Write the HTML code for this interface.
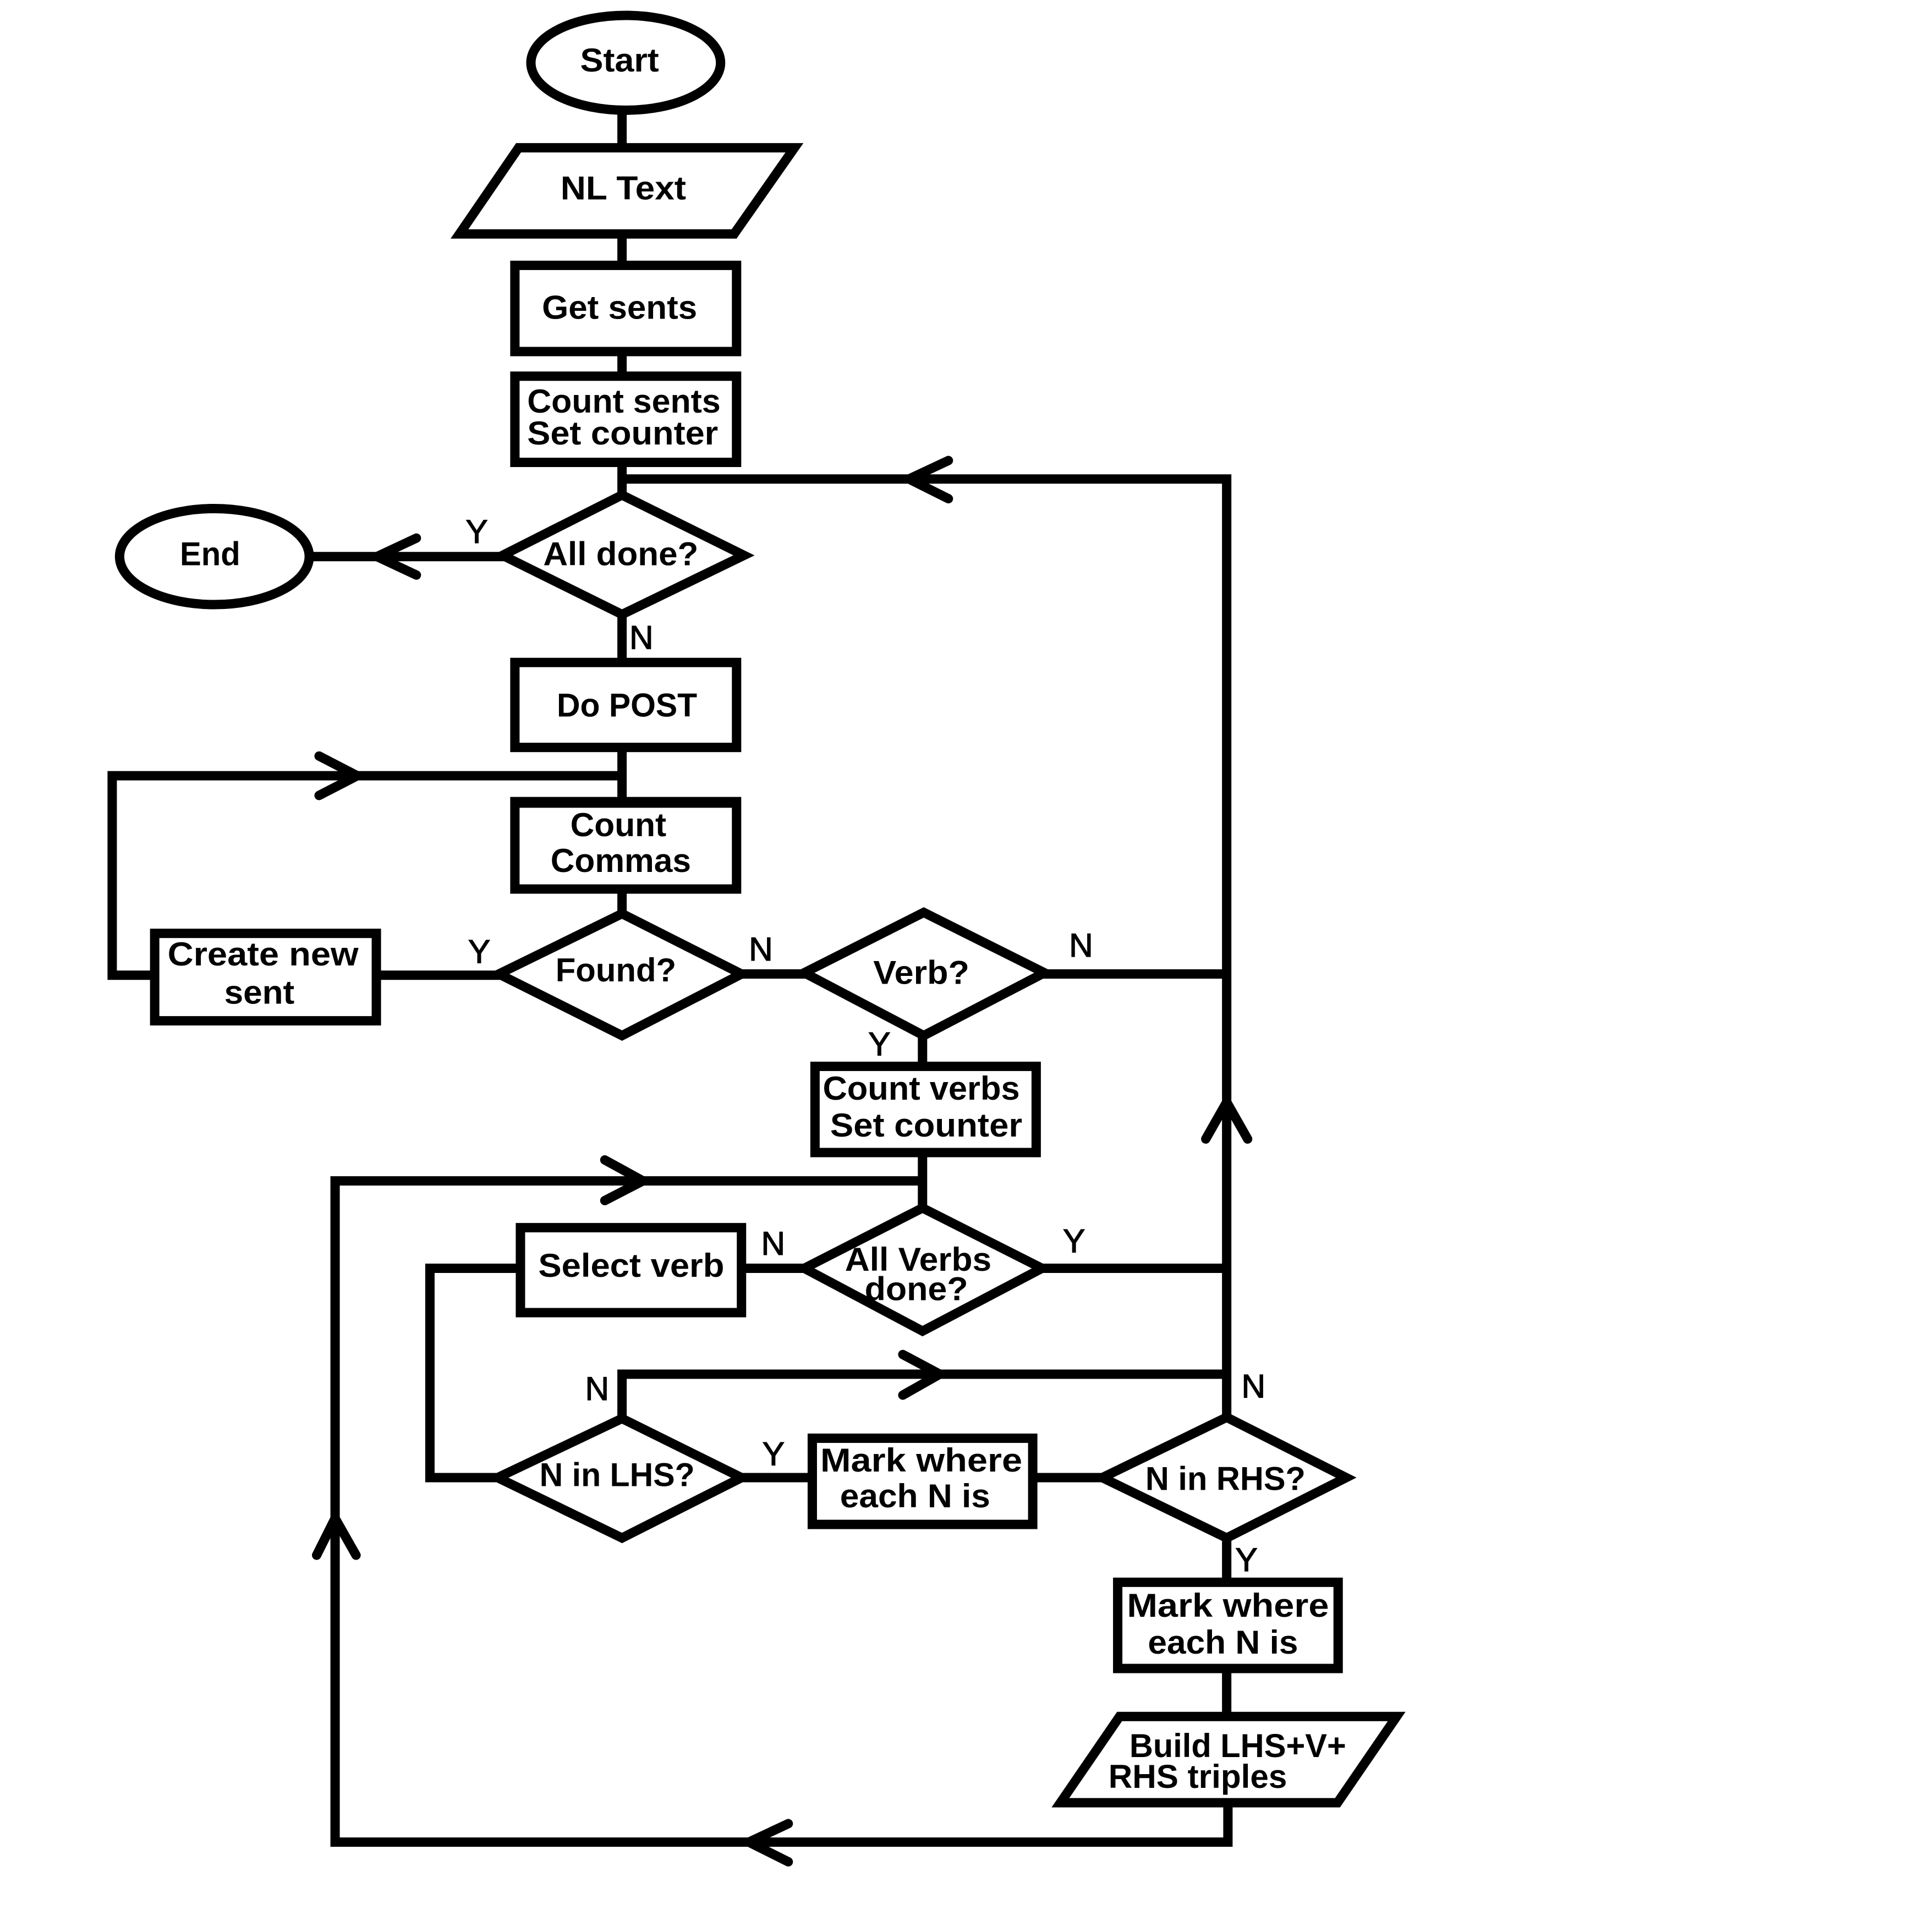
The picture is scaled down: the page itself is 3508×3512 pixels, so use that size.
<!DOCTYPE html>
<html><head><meta charset="utf-8"><style>
html,body{margin:0;padding:0;background:#fff}
svg{display:block}
text{font-family:"Liberation Sans",sans-serif;font-weight:bold;font-size:27px;fill:#000}
.l{font-weight:normal;font-size:27px;stroke:#000;stroke-width:.6}
</style></head><body>
<svg xmlns="http://www.w3.org/2000/svg" width="3508" height="3512" viewBox="0 0 1567 1569">
<rect width="1567" height="1569" fill="#fff"/>
<g fill="none" stroke="#000" stroke-width="7.6">
<path d="M505 90V120M505 190V215M505 285V305M505 375V402"/>
<path d="M505 389H996V1150"/>
<path d="M253 452H412M505 498V538M505 606V650"/>
<path d="M505 630H91V792H125"/>
<path d="M505 720V742M307 792H412M600 791H655M846 791H996"/>
<path d="M749 840V866M749 936V980"/>
<path d="M749 959H272V1496H997V1464"/>
<path d="M603 1030H655M846 1030H996"/>
<path d="M423 1030H349V1200H412"/>
<path d="M505 1152V1116H996"/>
<path d="M600 1200H660M840 1200H900"/>
<path d="M996 1250V1285M996 1355V1395"/>
</g>
<g fill="none" stroke="#000" stroke-width="7.6" stroke-linecap="round" stroke-linejoin="miter">
<path d="M338 437L306 452L338 467"/>
<path d="M770 374L738 389L770 405"/>
<path d="M259 614L290 630L259 646"/>
<path d="M491 942L522 959L491 975"/>
<path d="M733 1100L763 1116L733 1133"/>
<path d="M979 925L996 895L1013 925"/>
<path d="M257 1263L272 1233L289 1263"/>
<path d="M640 1481L608 1496L640 1512"/>
</g>
<g fill="#fff" stroke="#000" stroke-width="7.6" stroke-linejoin="miter">
<ellipse cx="508" cy="51" rx="77" ry="38.5"/>
<ellipse cx="174" cy="452" rx="77" ry="39"/>
<path d="M421 120H645L596 190H373Z"/>
<path d="M909 1394H1134L1086 1464H861Z"/>
<path d="M505 402L604 451L505 499L408 451Z"/>
<path d="M505 742L602 791L505 841L405 791Z"/>
<path d="M750 741L848 790L750 841L653 790Z"/>
<path d="M749 981L846 1030L749 1081L653 1030Z"/>
<path d="M505 1152L602 1200L505 1249L404 1200Z"/>
<path d="M996 1151L1093 1200L996 1249L895 1200Z"/>
</g>
<g fill="#fff" stroke="#000" stroke-width="7.6">
<rect x="418" y="215.5" width="180" height="70"/>
<rect x="418" y="305.5" width="180" height="70"/>
<rect x="418" y="538" width="180" height="69"/>
<rect x="418" y="651" width="180" height="71"/>
<rect x="125.5" y="758" width="180" height="71"/>
<rect x="661.7" y="866" width="179.6" height="70"/>
<rect x="422.5" y="997" width="179.5" height="69"/>
<rect x="659.5" y="1168" width="179" height="70"/>
<rect x="907.5" y="1285" width="179" height="70"/>
</g>
<path d="M418 649h180v7h-180zM125 755h181v6h-181z" fill="#000"/>
<text x="471" y="58" textLength="64" lengthAdjust="spacingAndGlyphs">Start</text>
<text x="455" y="162" textLength="102" lengthAdjust="spacingAndGlyphs">NL Text</text>
<text x="440" y="259" textLength="126" lengthAdjust="spacingAndGlyphs">Get sents</text>
<text x="428" y="335" textLength="157" lengthAdjust="spacingAndGlyphs">Count sents</text>
<text x="428" y="361" textLength="155" lengthAdjust="spacingAndGlyphs">Set counter</text>
<text x="441" y="459" textLength="126" lengthAdjust="spacingAndGlyphs">All done?</text>
<text x="146" y="459" textLength="49" lengthAdjust="spacingAndGlyphs">End</text>
<text x="452" y="582" textLength="114" lengthAdjust="spacingAndGlyphs">Do POST</text>
<text x="463" y="679" textLength="78" lengthAdjust="spacingAndGlyphs">Count</text>
<text x="447" y="708" textLength="114" lengthAdjust="spacingAndGlyphs">Commas</text>
<text x="136" y="784" textLength="155" lengthAdjust="spacingAndGlyphs">Create new</text>
<text x="182" y="815" textLength="57" lengthAdjust="spacingAndGlyphs">sent</text>
<text x="451" y="797" textLength="98" lengthAdjust="spacingAndGlyphs">Found?</text>
<text x="709" y="799" textLength="78" lengthAdjust="spacingAndGlyphs">Verb?</text>
<text x="668" y="893" textLength="160" lengthAdjust="spacingAndGlyphs">Count verbs</text>
<text x="674" y="923" textLength="156" lengthAdjust="spacingAndGlyphs">Set counter</text>
<text x="686" y="1032" textLength="119" lengthAdjust="spacingAndGlyphs">All Verbs</text>
<text x="702" y="1056" textLength="84" lengthAdjust="spacingAndGlyphs">done?</text>
<text x="437" y="1037" textLength="151" lengthAdjust="spacingAndGlyphs">Select verb</text>
<text x="438" y="1207" textLength="126" lengthAdjust="spacingAndGlyphs">N in LHS?</text>
<text x="666" y="1195" textLength="164" lengthAdjust="spacingAndGlyphs">Mark where</text>
<text x="682" y="1224" textLength="122" lengthAdjust="spacingAndGlyphs">each N is</text>
<text x="930" y="1210" textLength="130" lengthAdjust="spacingAndGlyphs">N in RHS?</text>
<text x="915" y="1313" textLength="164" lengthAdjust="spacingAndGlyphs">Mark where</text>
<text x="932" y="1343" textLength="122" lengthAdjust="spacingAndGlyphs">each N is</text>
<text x="917" y="1427" textLength="176" lengthAdjust="spacingAndGlyphs">Build LHS+V+</text>
<text x="900" y="1452" textLength="145" lengthAdjust="spacingAndGlyphs">RHS triples</text>
<text class="l" x="378" y="441">Y</text>
<text class="l" x="511" y="527">N</text>
<text class="l" x="380" y="782">Y</text>
<text class="l" x="608" y="780">N</text>
<text class="l" x="868" y="777">N</text>
<text class="l" x="705" y="857">Y</text>
<text class="l" x="863" y="1017">Y</text>
<text class="l" x="618" y="1019">N</text>
<text class="l" x="475" y="1137">N</text>
<text class="l" x="1008" y="1135">N</text>
<text class="l" x="619" y="1190">Y</text>
<text class="l" x="1003" y="1276">Y</text>
</svg>
</body></html>
